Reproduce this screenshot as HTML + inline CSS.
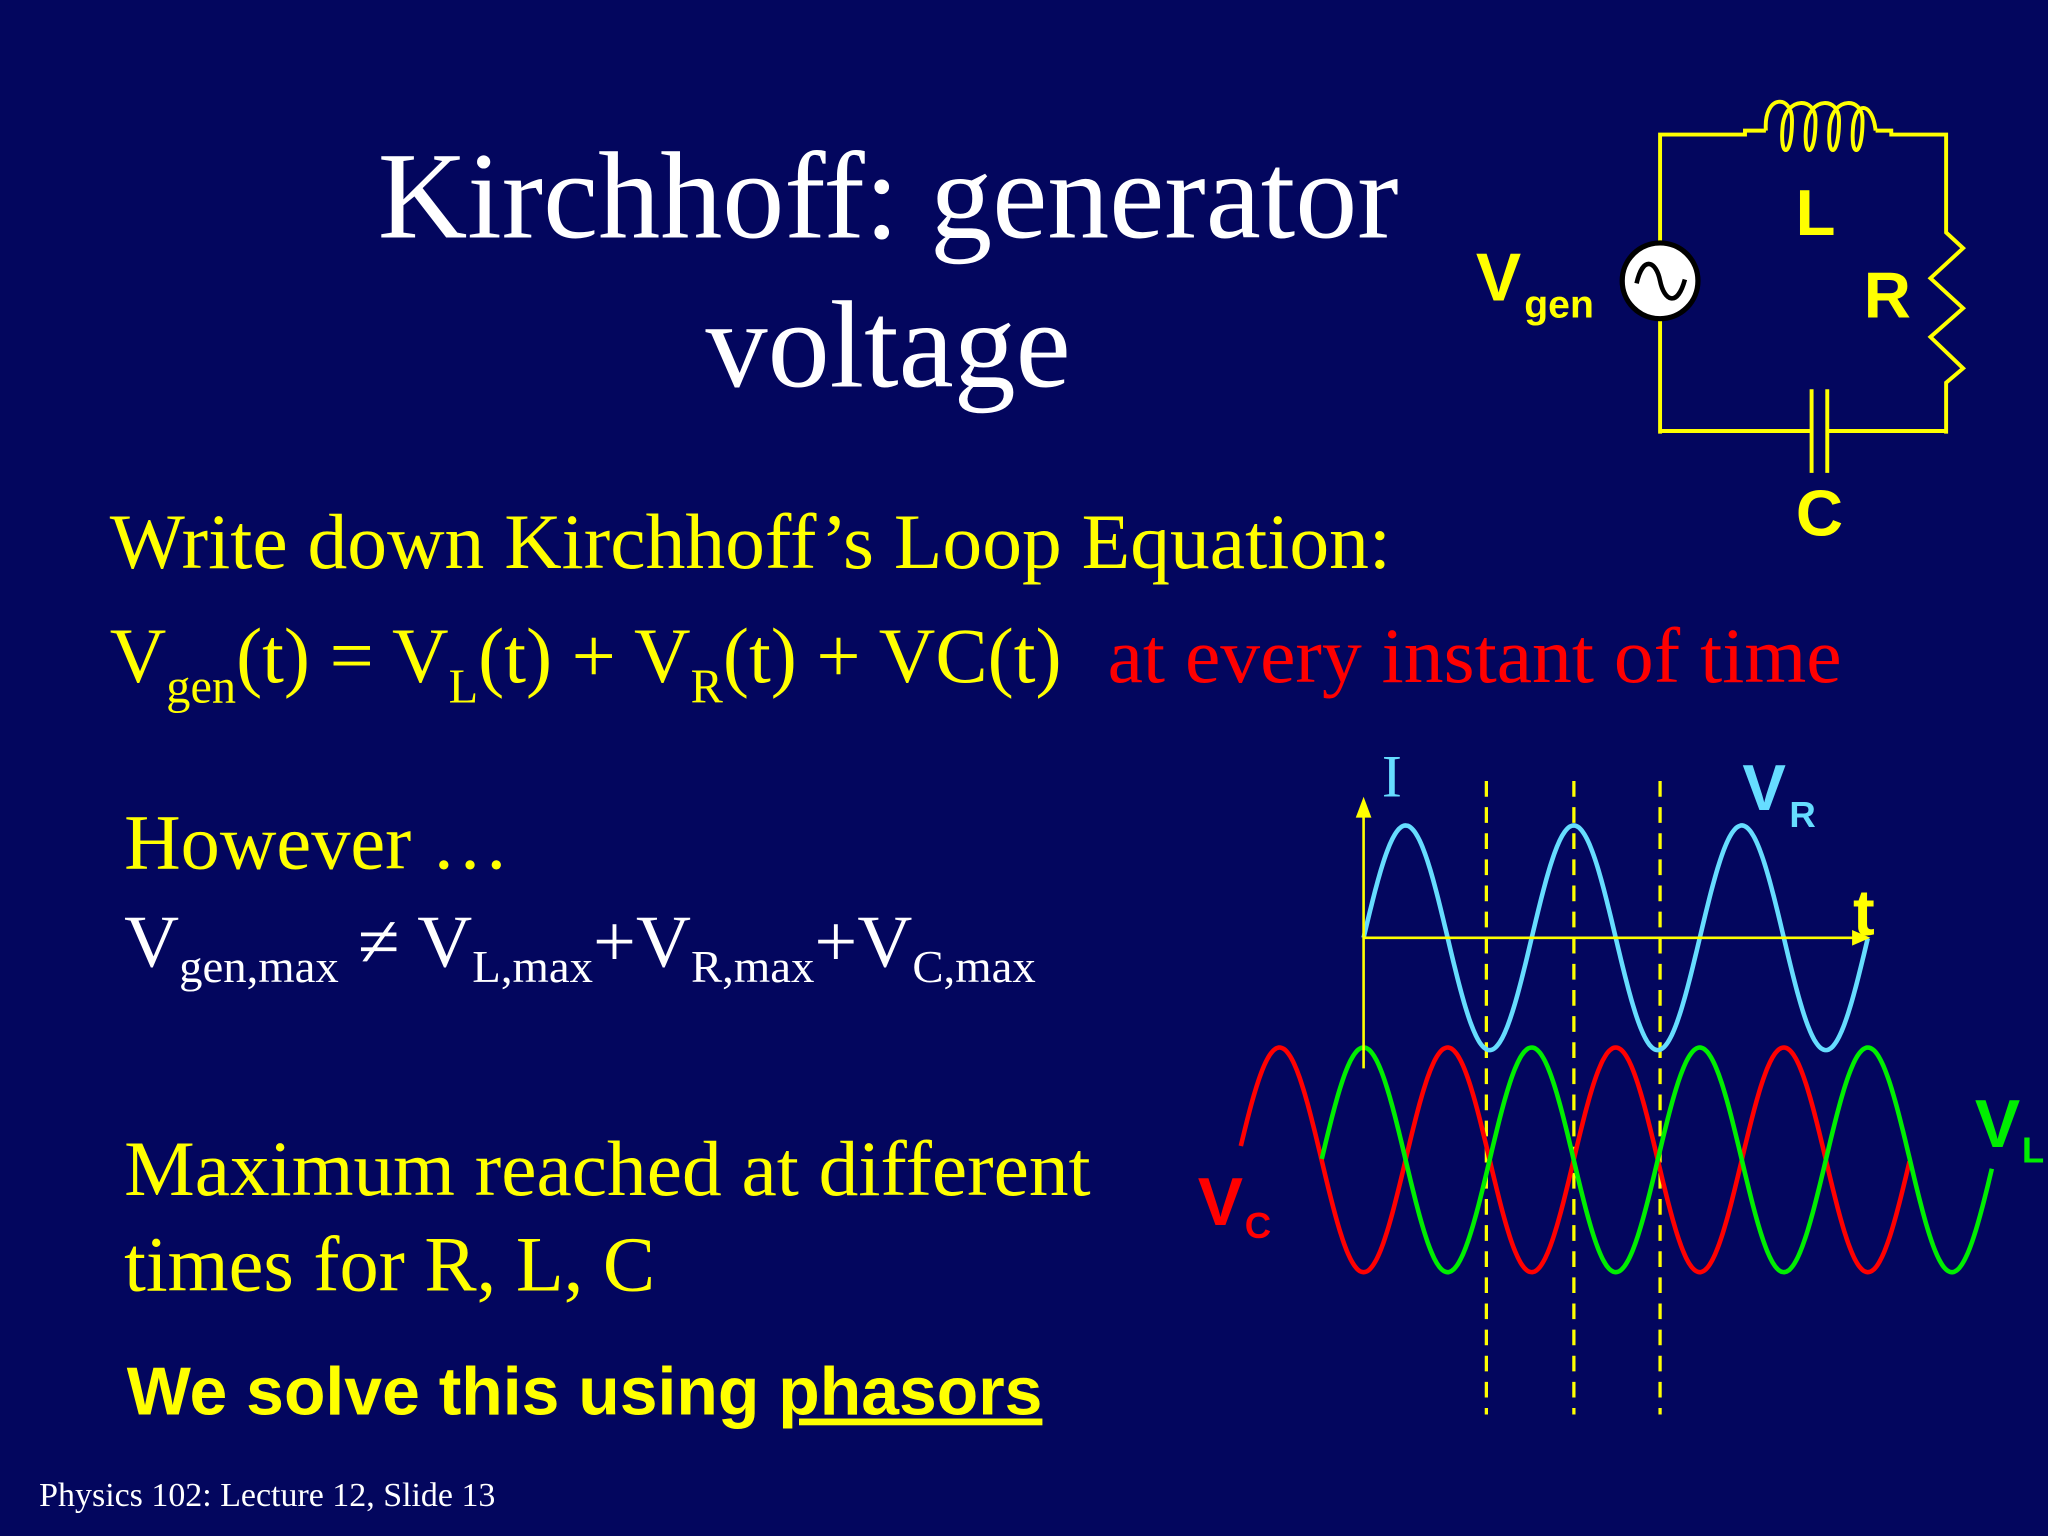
<!DOCTYPE html>
<html><head><meta charset="utf-8"><style>
html,body{margin:0;padding:0;background:#03065e;}
svg{display:block}
</style></head><body>
<svg id="s" width="2048" height="1536" viewBox="0 0 1568 1176" xmlns="http://www.w3.org/2000/svg">
<rect width="1568" height="1176" fill="#03065e"/>
<g font-family="Liberation Serif, serif" fill="#ffffff">
<text x="680" y="182" font-size="95" text-anchor="middle">Kirchhoff: generator</text>
<text x="680" y="296" font-size="95" text-anchor="middle">voltage</text>
</g>
<g font-family="Liberation Serif, serif" fill="#ffff00" font-size="60">
<text x="84" y="435" textLength="981" lengthAdjust="spacingAndGlyphs">Write down Kirchhoff’s Loop Equation:</text>
<text x="84" y="522">V<tspan font-size="37" dy="16">gen</tspan><tspan dy="-16">(t) = V</tspan><tspan font-size="37" dy="16">L</tspan><tspan dy="-16">(t) + V</tspan><tspan font-size="37" dy="16">R</tspan><tspan dy="-16">(t) + VC(t)</tspan></text>
<text x="848" y="522" fill="#ff0000" textLength="562" lengthAdjust="spacingAndGlyphs">at every instant of time</text>
<text x="95" y="665">However …</text>
<text x="95" y="915" textLength="740" lengthAdjust="spacingAndGlyphs">Maximum reached at different</text>
<text x="95" y="988">times for R, L, C</text>
</g>
<text x="95" y="740" font-family="Liberation Serif, serif" font-size="57" fill="#ffffff" textLength="698" lengthAdjust="spacingAndGlyphs">V<tspan font-size="35" dy="12">gen,max</tspan><tspan dy="-12"> ≠ V</tspan><tspan font-size="35" dy="12">L,max</tspan><tspan dy="-12">+V</tspan><tspan font-size="35" dy="12">R,max</tspan><tspan dy="-12">+V</tspan><tspan font-size="35" dy="12">C,max</tspan></text>
<text x="97" y="1083" font-family="Liberation Sans, sans-serif" font-weight="bold" font-size="52" fill="#ffff00">We solve this using <tspan text-decoration="underline">phasors</tspan></text>
<text x="30" y="1153" font-family="Liberation Serif, serif" font-size="26" fill="#ffffff">Physics 102: Lecture 12, Slide 13</text>

<!-- circuit -->
<g stroke="#ffff00" stroke-width="3" fill="none">
<polyline points="1271,188 1271,103 1336,103 1336,100 1352,100"/>
<path d="M1352,100 C1350,72 1372,72 1372,92 C1372,122 1362,122 1365,95 C1368,74 1390,74 1390,92 C1390,122 1380,122 1383,95 C1386,74 1408,74 1408,92 C1408,122 1398,122 1401,95 C1404,74 1426,74 1426,92 C1426,122 1416,122 1419,95 C1422,76 1434,80 1436,100"/>
<polyline points="1436,100 1448,100 1448,103 1490,103 1490,178 1503,190 1478,213 1503,236 1478,258 1503,282 1490,293 1490,332"/>
<polyline points="1271,243 1271,332"/>
<line x1="1270" y1="330" x2="1387" y2="330"/>
<line x1="1399" y1="330" x2="1490" y2="330"/>
<line x1="1387" y1="298" x2="1387" y2="362"/>
<line x1="1399" y1="298" x2="1399" y2="362"/>
</g>
<circle cx="1271" cy="215" r="29" fill="#ffffff" stroke="#000" stroke-width="4"/>
<path d="M1253,217 C1258,195 1268,200 1271,215 C1274,230 1284,236 1290,214" stroke="#000" stroke-width="3.5" fill="none"/>
<g font-family="Liberation Sans, sans-serif" font-weight="bold" fill="#ffff00">
<text x="1390" y="180" font-size="50" text-anchor="middle">L</text>
<text x="1445" y="243" font-size="50" text-anchor="middle">R</text>
<text x="1393" y="410" font-size="50" text-anchor="middle">C</text>
<text x="1130" y="230" font-size="52">V</text>
<text x="1167" y="243" font-size="30">gen</text>
</g>

<!-- graph -->
<g stroke="#ffff00" stroke-width="2.5" stroke-dasharray="12,8">
<line x1="1138" y1="598" x2="1138" y2="1083"/>
<line x1="1205" y1="598" x2="1205" y2="1083"/>
<line x1="1271" y1="598" x2="1271" y2="1083"/>
</g>
<path id="cyan" stroke="#66ddff" stroke-width="3.5" fill="none"/>
<path id="red" stroke="#ff0000" stroke-width="3.5" fill="none"/>
<path id="green" stroke="#00ee00" stroke-width="3.5" fill="none"/>
<g stroke="#ffff00" stroke-width="2">
<line x1="1044" y1="620" x2="1044" y2="818"/>
<line x1="1044" y1="718" x2="1422" y2="718"/>
</g>
<polygon points="1044,610 1038,626 1050,626" fill="#ffff00"/>
<polygon points="1432,718 1418,712 1418,724" fill="#ffff00"/>
<text x="1058" y="610" font-family="Liberation Serif, serif" font-size="46" fill="#66ddff">I</text>
<g font-family="Liberation Sans, sans-serif" font-weight="bold">
<text x="1427" y="716" font-size="50" fill="#ffff00" text-anchor="middle">t</text>
<text x="1334" y="620" font-size="50" fill="#66ddff">V</text>
<text x="1370" y="633" font-size="28" fill="#66ddff">R</text>
<text x="917" y="938" font-size="52" fill="#ff0000">V</text>
<text x="953" y="948" font-size="28" fill="#ff0000">C</text>
<text x="1512" y="878" font-size="52" fill="#00ee00">V</text>
<text x="1548" y="890" font-size="28" fill="#00ee00">L</text>
</g>
</svg>
<script>
(function(){
var P=128.7;
function mk(id,x0,x1,f){var d='';for(var x=x0;x<=x1+0.01;x+=1){d+=(d?'L':'M')+x.toFixed(1)+','+f(x).toFixed(1);}document.getElementById(id).setAttribute('d',d);}
mk('cyan',1044,1430,function(x){return 718-86*Math.sin(2*Math.PI*(x-1044)/P);});
mk('red',950,1462,function(x){return 888+86*Math.cos(2*Math.PI*(x-1044)/P);});
mk('green',1012,1525,function(x){return 888-86*Math.cos(2*Math.PI*(x-1044)/P);});
})();
</script>
</body></html>
